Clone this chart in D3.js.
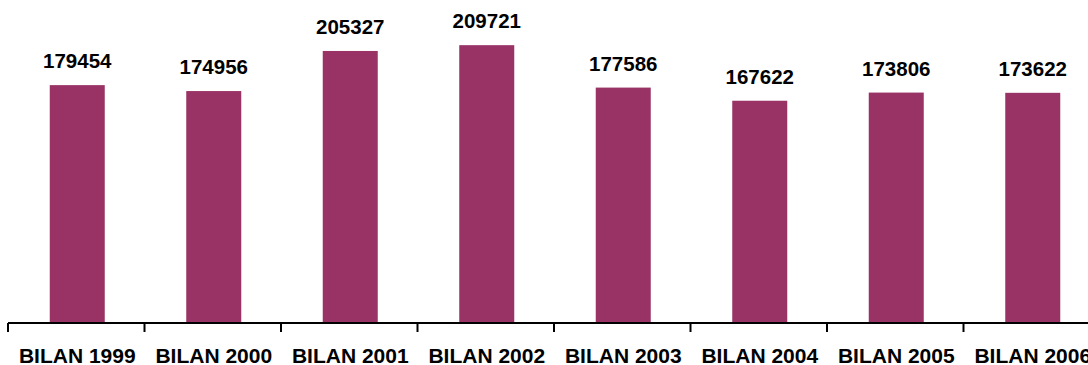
<!DOCTYPE html>
<meta charset="utf-8">
<title>Bilans</title>
<body>
<script src="https://cdn.jsdelivr.net/npm/d3@7"></script>
<style>
html, body {
    margin: 0;
    background: #fff;
}
svg {
    display: block;
    font-family: "Liberation Sans", Arial, sans-serif;
    font-weight: bold;
}
</style>
<script>
var categories = ["BILAN 1999", "BILAN 2000", "BILAN 2001", "BILAN 2002",
                  "BILAN 2003", "BILAN 2004", "BILAN 2005", "BILAN 2006"];
var values = [179454, 174956, 205327, 209721, 177586, 167622, 173806, 173622];

var width = 1088,
    height = 365,
    baseY = 323,
    barW = 55;

var svg = d3.select("body").append("svg")
    .attr("width", width)
    .attr("height", height);

var x = d3.scaleBand()
    .domain(categories)
    .range([8, 8 + 136.5 * categories.length]);

var y = d3.scaleLinear()
    .domain([0, 250000])
    .range([baseY - 1, baseY - 1 - 330]);

// bars
svg.selectAll("rect.bar")
    .data(values)
  .enter().append("rect")
    .attr("class", "bar")
    .attr("x", function(d, i) { return x(categories[i]) + x.bandwidth() / 2 + 1 - barW / 2; })
    .attr("y", function(d) { return y(d); })
    .attr("width", barW)
    .attr("height", function(d) { return y(0) - y(d); })
    .attr("fill", "#993366");

// value labels
svg.selectAll("text.val")
    .data(values)
  .enter().append("text")
    .attr("class", "val")
    .attr("x", function(d, i) { return x(categories[i]) + x.bandwidth() / 2 + 1; })
    .attr("y", function(d) { return y(d) - 17; })
    .attr("text-anchor", "middle")
    .attr("font-size", 20.5)
    .attr("fill", "#000")
    .text(function(d) { return d; });

// x axis
var axis = d3.axisBottom(x)
    .tickSize(0)
    .tickPadding(0);

var gx = svg.append("g")
    .attr("transform", "translate(0," + baseY + ")")
    .call(axis);

gx.select(".domain").remove();
gx.selectAll(".tick text")
    .attr("y", 39.5)
    .attr("dy", null)
    .attr("font-size", 21)
    .attr("font-family", "Liberation Sans, Arial, sans-serif")
    .attr("font-weight", "bold")
    .attr("fill", "#000")
    .attr("dx", 1);

gx.append("line")
    .attr("x1", 8)
    .attr("x2", width)
    .attr("y1", 0)
    .attr("y2", 0)
    .attr("stroke", "#000")
    .attr("stroke-width", 2);

gx.selectAll("line.tk")
    .data(categories)
  .enter().append("line")
    .attr("class", "tk")
    .attr("x1", function(d) { return x(d); })
    .attr("x2", function(d) { return x(d); })
    .attr("y1", 0)
    .attr("y2", 9)
    .attr("stroke", "#000")
    .attr("stroke-width", 2);
</script>
